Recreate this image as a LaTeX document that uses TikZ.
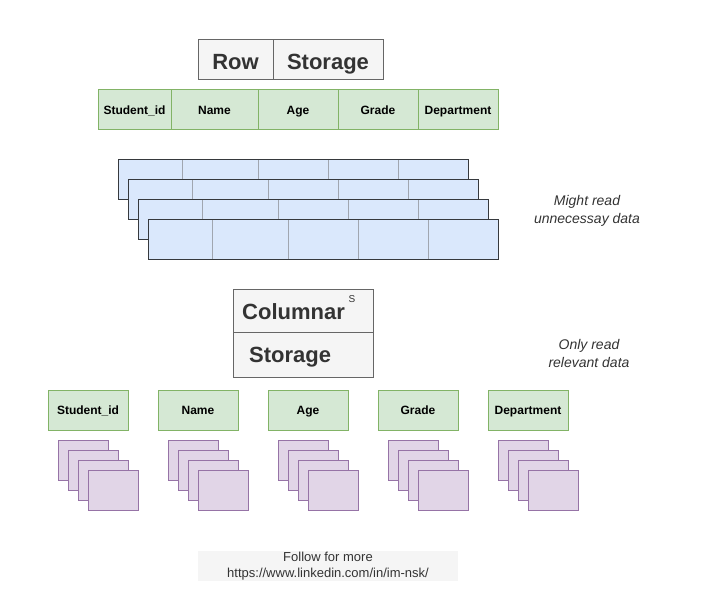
\documentclass[tikz,border=0pt]{standalone}
\usepackage{fontspec}
\setmainfont{Liberation Sans}
\usepackage{xcolor}
\usetikzlibrary{positioning}
\definecolor{titlefill}{HTML}{F5F5F5}
\definecolor{titledraw}{HTML}{666666}
\definecolor{textgray}{HTML}{333333}
\definecolor{greenfill}{HTML}{D5E8D4}
\definecolor{greendraw}{HTML}{82B366}
\definecolor{bluefill}{HTML}{DAE8FC}
\definecolor{bluedraw}{HTML}{36393D}
\definecolor{dividergray}{HTML}{A0A6B0}
\definecolor{purplefill}{HTML}{E1D5E7}
\definecolor{purpledraw}{HTML}{9673A6}

\begin{document}
\begin{tikzpicture}[x=1pt,y=-1pt]
\tikzset{titlebox/.style={draw=titledraw,fill=titlefill,line width=1pt,minimum height=40pt,inner sep=0pt,outer sep=0pt,
           anchor=north west,text=textgray,text height=20pt,text depth=1pt,font=\fontsize{22}{26}\selectfont\bfseries},
         headcell/.style={draw=greendraw,fill=greenfill,line width=1pt,minimum height=40pt,inner sep=0pt,outer sep=0pt,
           anchor=north west,text height=10pt,text depth=1.4pt,font=\fontsize{12}{14}\selectfont\bfseries},
         datarow/.style={draw=bluedraw,fill=bluefill,line width=1pt,minimum width=350pt,minimum height=40pt,
           inner sep=0pt,outer sep=0pt,anchor=north west},
         divider/.style={draw=dividergray,line width=1pt},
         datablock/.style={draw=purpledraw,fill=purplefill,line width=1pt,minimum width=50pt,minimum height=40pt,
           inner sep=0pt,outer sep=0pt,anchor=north west},
         note/.style={align=center,text=textgray,font=\fontsize{14}{18}\selectfont\itshape}}
\useasboundingbox (0,0) rectangle (705,599);
% row storage
\node[titlebox,minimum width=75pt] (rowtitle) at (198,40) {Row};
\node[titlebox,minimum width=110pt,right=0pt of rowtitle] (rowstorage) {Storage};
\node[headcell,minimum width=73pt] (hstudent) at (98,90) {Student\_id};
\node[headcell,minimum width=87pt,right=0pt of hstudent] (hname) {Name};
\node[headcell,minimum width=80pt,right=0pt of hname] (hage) {Age};
\node[headcell,minimum width=80pt,right=0pt of hage] (hgrade) {Grade};
\node[headcell,minimum width=80pt,right=0pt of hgrade] (hdept) {Department};
\foreach \i in {0,...,3}{
  \node[datarow] (row\i) at (118+10*\i,160+20*\i) {};
  \foreach \d in {64,140,210,280}
    \draw[divider] ([xshift=\d pt,yshift=-0.5pt]row\i.north west) -- ([xshift=\d pt,yshift=0.5pt]row\i.south west);
}
\node[note] (mightread) at (587,211) {Might read\\unnecessay data};
% columnar storage
\node[titlebox,minimum width=140pt,minimum height=88pt] (colbox) at (233,289) {};
\draw[draw=titledraw,line width=1pt] (colbox.west |- 0,332) -- (colbox.east |- 0,332);
\node[anchor=west,inner sep=0pt,text=textgray,font=\fontsize{22}{26}\selectfont\bfseries] (coltitle) at (242,311.5) {Columnar};
\node[anchor=west,inner sep=0pt,text=textgray,font=\fontsize{22}{26}\selectfont\bfseries] (colstorage) at (249,357) {Storage};
\node[inner sep=0pt,text=textgray,font=\fontsize{10}{12}\selectfont] (colmark) at (352,299) {S};
\node[note] (onlyread) at (589,353) {Only read\\relevant data};
\foreach \k/\lbl/\nm in {0/Student\_id/student,1/Name/name,2/Age/age,3/Grade/grade,4/Department/dept}{
  \node[headcell,minimum width=80pt] (c\nm) at (48+110*\k,390) {\lbl};
  \foreach \j in {0,...,3}
    \node[datablock] (b\nm\j) at (58+110*\k+10*\j,440+10*\j) {};
}
% footer
\node[fill=titlefill,minimum width=260pt,minimum height=30pt,inner sep=0pt,align=center,text=textgray,
      font=\fontsize{13}{16}\selectfont] (footer) at (328,566) {Follow for more\\https://www.linkedin.com/in/im-nsk/};
\end{tikzpicture}
\end{document}
